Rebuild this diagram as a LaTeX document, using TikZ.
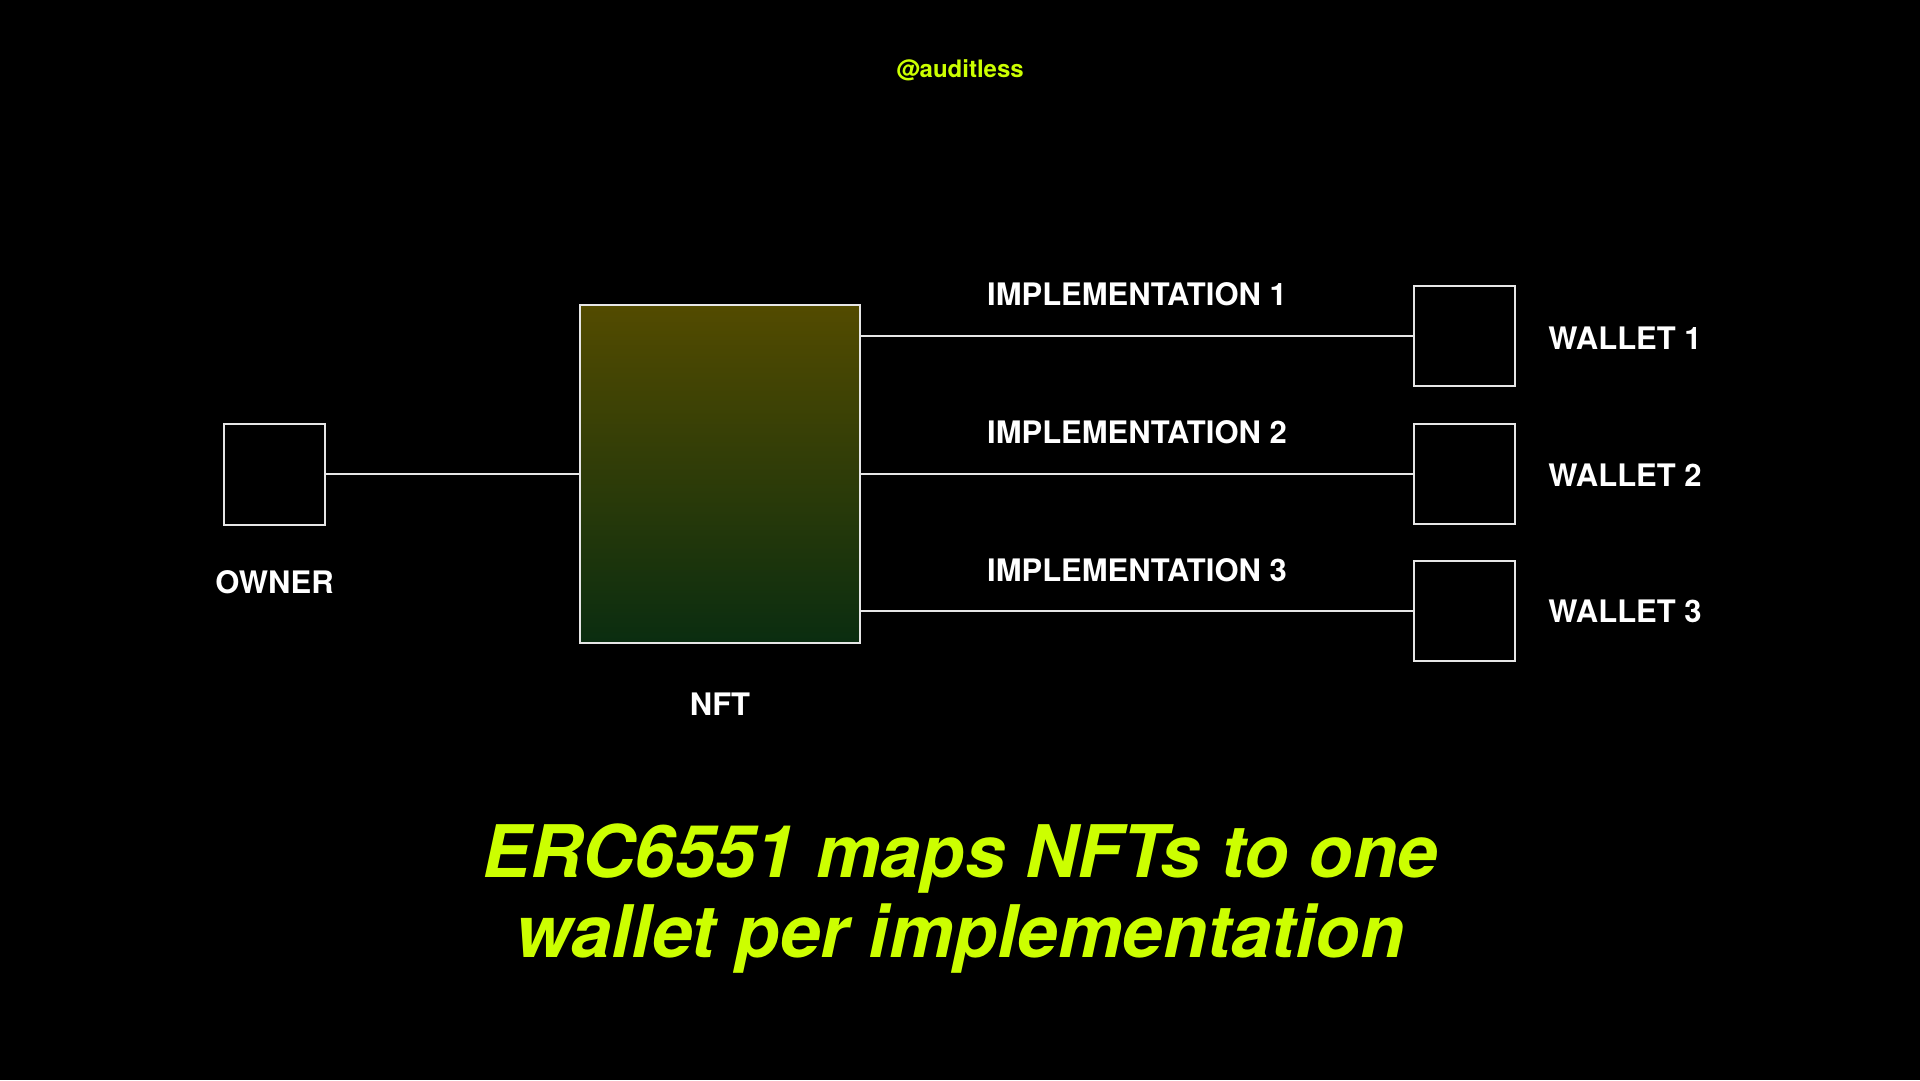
\documentclass[tikz,border=0pt]{standalone}
\usepackage{fontspec}
\setmainfont{TeX Gyre Heros}
\usetikzlibrary{positioning}
\definecolor{lime}{HTML}{CCFF00}
\definecolor{nfttop}{HTML}{534B00}
\definecolor{nftbot}{HTML}{0A2D10}
\definecolor{linegray}{HTML}{E6E6E6}

\tikzset{
  box/.style={draw=linegray, line width=2pt, inner sep=0pt, minimum width=101pt, minimum height=101pt},
  lbl/.style={text=white, font=\bfseries\fontsize{31}{36}\selectfont, inner sep=0pt, anchor=base},
  headline/.style={text=lime, font=\bfseries\itshape\fontsize{72.5}{80}\selectfont, inner sep=0pt, anchor=base},
  link/.style={draw=linegray, line width=2pt}
}

\begin{document}
\begin{tikzpicture}[x=1pt, y=-1pt]
\fill[black] (0,0) rectangle (1920,1080);
\useasboundingbox (0,0) rectangle (1920,1080);

\node[text=lime, font=\bfseries\fontsize{24}{28}\selectfont, inner sep=0pt, anchor=base] (handle) at (960,77) {@auditless};

% owner, nft and wallets
\node[box] (owner) at (274.5,474) {};
\node[box, minimum width=280pt, minimum height=338pt, top color=nfttop, bottom color=nftbot] (nft) at (720,474) {};
\foreach \i/\y in {1/336,2/474,3/610.5}
  \node[box, minimum height=100pt] (w\i) at (1464.5,\y) {};

\draw[link] (owner) -- (nft);
\foreach \i in {1,2,3}
  \draw[link] (nft.east |- w\i) -- (w\i.west);

% labels
\node[lbl] (ownerlbl) at (274.5,593) {OWNER};
\node[lbl] (nftlbl) at (720,715) {NFT};
\foreach \i/\y in {1/305.5,2/443.5,3/581}
  \node[lbl] (impl\i) at (1137,\y) {IMPLEMENTATION \i};
\foreach \i/\y in {1/349,2/486,3/622}
  \node[lbl] (wlbl\i) at (1625,\y) {WALLET \i};

\node[headline] (title1) at (960,877) {ERC6551 maps NFTs to one};
\node[headline] (title2) at (960,957) {wallet per implementation};
\end{tikzpicture}
\end{document}
